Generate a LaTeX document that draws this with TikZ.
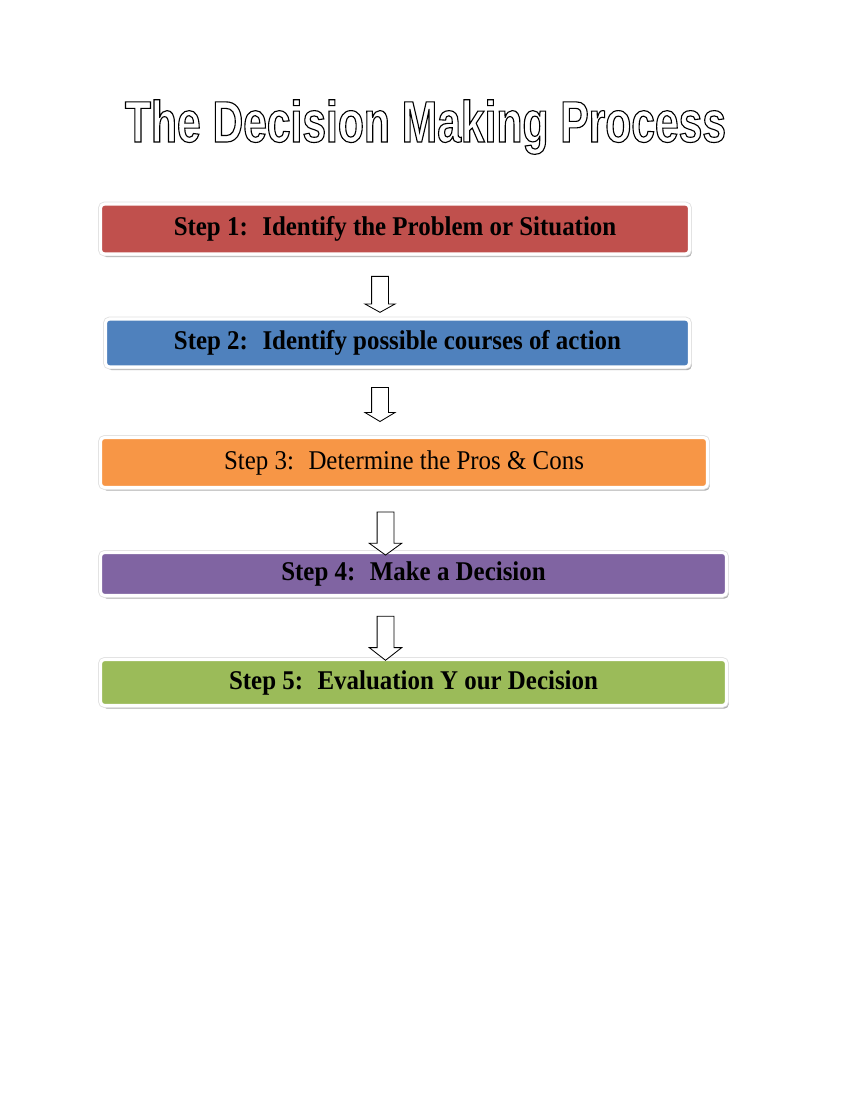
\documentclass[tikz,border=0pt]{standalone}
\usepackage{fontspec}
\usepackage{xcolor}
\usetikzlibrary{shapes,arrows,positioning,shadows,calc}

\newfontfamily\titlefont[FakeStretch=0.73]{Liberation Sans}
\newfontfamily\stepfont[FakeStretch=0.92]{Liberation Serif}
\newcommand{\pxu}{0.72pt}
% hollow (stroked) letters for the title
\newcommand{\hollowtext}[1]{\special{pdf:code q 1 Tr 0.8 w 0 0 0 RG}#1\special{pdf:code Q}}

\definecolor{stepred}{HTML}{C0504D}
\definecolor{stepblue}{HTML}{4F81BD}
\definecolor{steporange}{HTML}{F79646}
\definecolor{steppurple}{HTML}{8064A2}
\definecolor{stepgreen}{HTML}{9BBB59}

\tikzset{
  stepbox/.style={rectangle, rounded corners=2.9pt, draw=white, line width=2.2pt, fill=#1,
    inner sep=0pt, font=\stepfont\fontsize{19.5}{22}\selectfont,
    drop shadow={shadow xshift=1.5pt, shadow yshift=-2.2pt, fill=black!45, opacity=0.7},
    preaction={draw=black!12, line width=3.4pt}},
  downarrow/.style={single arrow, draw, fill=white, rotate=-90, inner sep=5.76pt,
    single arrow head indent=0pt, line width=0.6pt}
}

\begin{document}
\begin{tikzpicture}[x=0.72pt, y=-0.72pt]
	\fill[white] (0,0) rectangle (850,1100);
	\node[anchor=base, font=\titlefont\bfseries\fontsize{42}{46}\selectfont] (title) at (425.5,142)
		{\hollowtext{The Decision Making Process}};
	
	\node[stepbox=stepred, minimum width=589*\pxu, minimum height=50*\pxu] (s1) at (395,229) {\textbf{Step 1:~ Identify the Problem or Situation}};
	\node[stepbox=stepblue, minimum width=584*\pxu, minimum height=48*\pxu] (s2) at (397.5,343) {\textbf{Step 2:~ Identify possible courses of action}};
	\node[stepbox=steporange, minimum width=607*\pxu, minimum height=50*\pxu] (s3) at (404,462.5) {Step 3:~ Determine the Pros \& Cons};
	\node[stepbox=steppurple, minimum width=626*\pxu, minimum height=43*\pxu] (s4) at (413.5,574) {\textbf{Step 4:~ Make a Decision}};
	\node[stepbox=stepgreen, minimum width=626*\pxu, minimum height=46*\pxu] (s5) at (413.5,682.5) {\textbf{Step 5:~ Evaluation Y our Decision}};
	
	\node[downarrow, minimum height=36*\pxu, single arrow head extend=4.7pt, single arrow tip angle=122] (a1) at (380,292) {};
	\node[downarrow, minimum height=34*\pxu, single arrow head extend=4.7pt, single arrow tip angle=118] (a2) at (380,402) {};
	\node[downarrow, minimum height=43*\pxu, single arrow head extend=5.6pt, single arrow tip angle=108] (a3) at (385.5,530.5) {};
	\node[downarrow, minimum height=44*\pxu, single arrow head extend=5.6pt, single arrow tip angle=104] (a4) at (385.5,635) {};
\end{tikzpicture}
\end{document}
